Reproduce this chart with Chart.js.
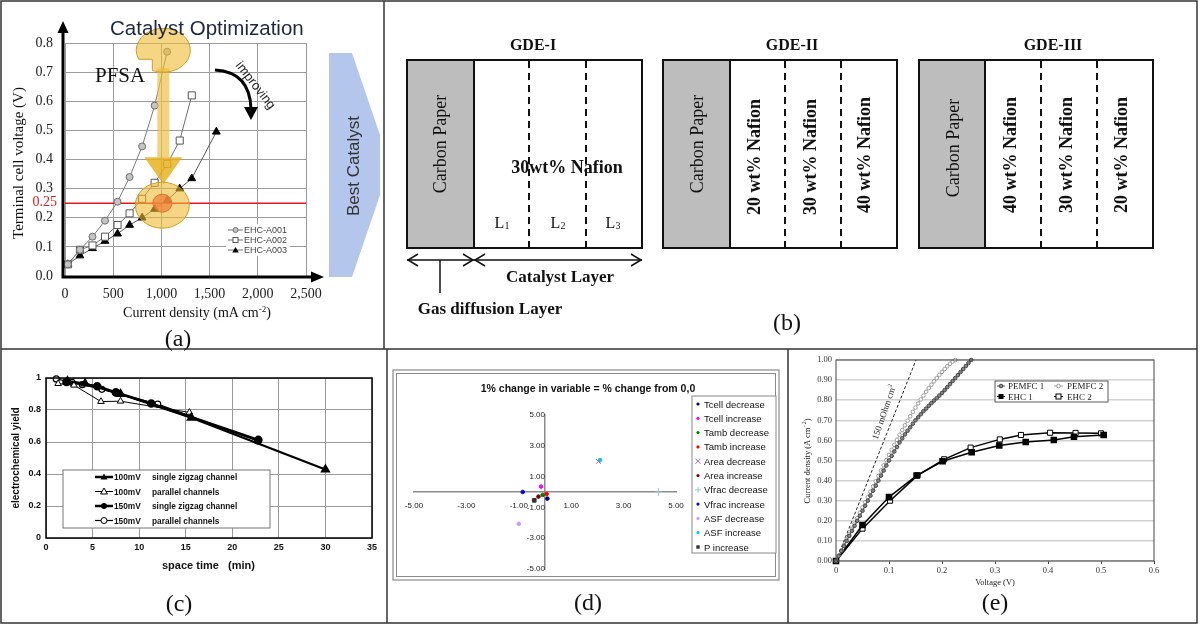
<!DOCTYPE html>
<html>
<head>
<meta charset="utf-8">
<title>Hydrogen pump figure</title>
<script src="https://cdn.jsdelivr.net/npm/chart.js@4.4.0/dist/chart.umd.min.js"></script>
<style>
  body { margin: 0; background: #fff; }
  #page { position: relative; width: 1200px; height: 625px; overflow: hidden; background: #fff; }
  #page canvas { position: absolute; }
  #over { position: absolute; left: 0; top: 0; }
</style>
</head>
<body>
<div id="page">
  <canvas id="chartA" width="340" height="310" style="left:0px;top:0px"></canvas>
  <canvas id="chartC" width="387" height="215" style="left:0px;top:349px"></canvas>
  <canvas id="chartD" width="300" height="180" style="left:395px;top:400px"></canvas>
  <canvas id="chartE" width="405" height="235" style="left:790px;top:349px"></canvas>

  <svg id="over" width="1200" height="625" xmlns="http://www.w3.org/2000/svg">
    <!-- panel frames -->
    <g fill="none" stroke="#333" stroke-width="1.5">
      <rect x="1" y="1" width="1196" height="622"/>
      <line x1="384" y1="1" x2="384" y2="349"/>
      <line x1="1" y1="349" x2="1197" y2="349"/>
      <line x1="387" y1="349" x2="387" y2="623"/>
      <line x1="788" y1="349" x2="788" y2="623"/>
    </g>

    <!-- (a) -->
    <text x="110" y="35" font-family="Liberation Sans" font-size="20.5" fill="#1c2742">Catalyst Optimization</text>
    <text x="95" y="82" font-family="Liberation Serif" font-size="21" fill="#111">PFSA</text>
    <path d="M215,70 Q250,72 251,109" fill="none" stroke="#000" stroke-width="3"/>
    <polygon points="244,107 258,107 251,120" fill="#000"/>
    <text transform="translate(256,85) rotate(52)" text-anchor="middle" dominant-baseline="central" font-family="Liberation Sans" font-size="13" fill="#222">improving</text>
    <text x="57" y="201" text-anchor="end" dominant-baseline="central" font-family="Liberation Serif" font-size="14" fill="#e8171b">0.25</text>
    <text transform="translate(18,163) rotate(-90)" text-anchor="middle" dominant-baseline="central" font-family="Liberation Serif" font-size="15" fill="#111">Terminal cell voltage (V)</text>
    <text x="197" y="317" text-anchor="middle" font-family="Liberation Serif" font-size="14" fill="#111">Current density (mA cm<tspan baseline-shift="super" font-size="9">-2</tspan>)</text>
    <rect x="226" y="224" width="64" height="32" fill="#fff"/>
    <g stroke="#777" stroke-width="1">
      <line x1="228" y1="230" x2="243" y2="230"/>
      <line x1="228" y1="240" x2="243" y2="240"/>
      <line x1="228" y1="250" x2="243" y2="250"/>
    </g>
    <circle cx="235.5" cy="230" r="2.5" fill="#c4c4c4" stroke="#6e6e6e"/>
    <rect x="233" y="237.5" width="5" height="5" fill="#fff" stroke="#555"/>
    <polygon points="235.5,247 238.8,252.5 232.2,252.5" fill="#000"/>
    <g font-family="Liberation Sans" font-size="9" fill="#444" dominant-baseline="central">
      <text x="244" y="230">EHC-A001</text>
      <text x="244" y="240">EHC-A002</text>
      <text x="244" y="250">EHC-A003</text>
    </g>
    <text x="178" y="338" text-anchor="middle" dominant-baseline="central" font-family="Liberation Serif" font-size="24" fill="#111">(a)</text>

    <!-- Best catalyst arrow -->
    <polygon points="329,53 352,53 380,135 380,195 352,277 329,277" fill="#b4c6ec"/>
    <text transform="translate(353,166) rotate(-90)" text-anchor="middle" dominant-baseline="central" font-family="Liberation Sans" font-size="17" fill="#333">Best Catalyst</text>

    <!-- (b) GDE layouts -->
    <g font-family="Liberation Serif" font-weight="bold" font-size="16" fill="#111" text-anchor="middle" dominant-baseline="central">
      <text x="533" y="44">GDE-I</text>
      <text x="792" y="44">GDE-II</text>
      <text x="1053" y="44">GDE-III</text>
    </g>
    <g stroke="#111" stroke-width="2">
      <rect x="407" y="60" width="235" height="188" fill="#fff"/>
      <rect x="407" y="60" width="67" height="188" fill="#bdbdbd"/>
      <rect x="663" y="60" width="234" height="188" fill="#fff"/>
      <rect x="663" y="60" width="67" height="188" fill="#bdbdbd"/>
      <rect x="919" y="60" width="234" height="188" fill="#fff"/>
      <rect x="919" y="60" width="66" height="188" fill="#bdbdbd"/>
    </g>
    <g stroke="#111" stroke-width="2" stroke-dasharray="7,5">
      <line x1="529" y1="61" x2="529" y2="247"/>
      <line x1="586" y1="61" x2="586" y2="247"/>
      <line x1="785" y1="61" x2="785" y2="247"/>
      <line x1="841" y1="61" x2="841" y2="247"/>
      <line x1="1041" y1="61" x2="1041" y2="247"/>
      <line x1="1097" y1="61" x2="1097" y2="247"/>
    </g>
    <g font-family="Liberation Serif" font-size="18" fill="#111" text-anchor="middle" dominant-baseline="central">
      <text transform="translate(440,144) rotate(-90)">Carbon Paper</text>
      <text transform="translate(697,144) rotate(-90)">Carbon Paper</text>
      <text transform="translate(953,148) rotate(-90)">Carbon Paper</text>
    </g>
    <g font-family="Liberation Serif" font-weight="bold" font-size="18" fill="#111" text-anchor="middle" dominant-baseline="central">
      <text x="567" y="167">30wt% Nafion</text>
      <text transform="translate(754,157) rotate(-90)">20 wt% Nafion</text>
      <text transform="translate(810,157) rotate(-90)">30 wt% Nafion</text>
      <text transform="translate(864,155) rotate(-90)">40 wt% Nafion</text>
      <text transform="translate(1010,155) rotate(-90)">40 wt% Nafion</text>
      <text transform="translate(1066,155) rotate(-90)">30 wt% Nafion</text>
      <text transform="translate(1121,155) rotate(-90)">20 wt% Nafion</text>
    </g>
    <g font-family="Liberation Serif" font-size="16" fill="#111" text-anchor="middle" dominant-baseline="central">
      <text x="502" y="222">L<tspan font-size="10" dy="3">1</tspan></text>
      <text x="558" y="222">L<tspan font-size="10" dy="3">2</tspan></text>
      <text x="613" y="222">L<tspan font-size="10" dy="3">3</tspan></text>
    </g>
    <g stroke="#111" stroke-width="1.5" fill="none">
      <line x1="407" y1="260" x2="642" y2="260"/>
      <polyline points="418,254 408,260 418,266"/>
      <polyline points="463,254 473,260 463,266"/>
      <polyline points="485,254 475,260 485,266"/>
      <polyline points="631,254 641,260 631,266"/>
      <line x1="440" y1="260" x2="440" y2="293"/>
    </g>
    <g font-family="Liberation Serif" font-weight="bold" font-size="17" fill="#111" text-anchor="middle" dominant-baseline="central">
      <text x="560" y="276">Catalyst Layer</text>
      <text x="490" y="308">Gas diffusion Layer</text>
    </g>
    <text x="787" y="322" text-anchor="middle" dominant-baseline="central" font-family="Liberation Serif" font-size="24" fill="#111">(b)</text>

    <!-- (c) -->
    <text transform="translate(15,458) rotate(-90)" text-anchor="middle" dominant-baseline="central" font-family="Liberation Sans" font-weight="bold" font-size="10" fill="#111">electrochemical  yield</text>
    <g font-family="Liberation Sans" font-weight="bold" font-size="11" fill="#111">
      <text x="162" y="569">space time</text>
      <text x="228" y="569">(min)</text>
    </g>
    <rect x="63" y="470" width="207" height="58" fill="#fff" stroke="#777" stroke-width="1"/>
    <g stroke="#000">
      <line x1="95" y1="477" x2="113" y2="477" stroke-width="2.5"/>
      <line x1="95" y1="491.5" x2="113" y2="491.5" stroke-width="1"/>
      <line x1="95" y1="506" x2="113" y2="506" stroke-width="2.5"/>
      <line x1="95" y1="520.5" x2="113" y2="520.5" stroke-width="1.2"/>
    </g>
    <polygon points="104,473.5 107.5,479.5 100.5,479.5" fill="#000"/>
    <polygon points="104,488 107.5,494 100.5,494" fill="#fff" stroke="#000"/>
    <circle cx="104" cy="506" r="3" fill="#000"/>
    <circle cx="104" cy="520.5" r="3" fill="#fff" stroke="#000"/>
    <g font-family="Liberation Sans" font-weight="bold" font-size="8.3" fill="#111" dominant-baseline="central">
      <text x="114" y="477">100mV</text><text x="152" y="477">single zigzag channel</text>
      <text x="114" y="491.5">100mV</text><text x="152" y="491.5">parallel channels</text>
      <text x="114" y="506">150mV</text><text x="152" y="506">single zigzag channel</text>
      <text x="114" y="520.5">150mV</text><text x="152" y="520.5">parallel channels</text>
    </g>
    <text x="179" y="603" text-anchor="middle" dominant-baseline="central" font-family="Liberation Serif" font-size="24" fill="#111">(c)</text>

    <!-- (d) -->
    <rect x="393" y="370" width="386" height="210" fill="none" stroke="#8a8a8a" stroke-width="1.2"/>
    <rect x="396.5" y="373.5" width="379" height="203" fill="none" stroke="#8a8a8a" stroke-width="1"/>
    <text x="588" y="388" text-anchor="middle" dominant-baseline="central" font-family="Liberation Sans" font-weight="bold" font-size="10.5" fill="#111">1% change in variable = % change from 0,0</text>
    <rect x="692" y="396" width="84" height="157" fill="#fff" stroke="#888" stroke-width="1"/>
    <circle cx="698" cy="404" r="1.6" fill="#000080"/>
    <circle cx="698" cy="418.3" r="1.6" fill="#ff00ff"/>
    <circle cx="698" cy="432.6" r="1.6" fill="#008000"/>
    <circle cx="698" cy="446.9" r="1.6" fill="#ff0000"/>
    <path d="M695.5,458.7 L700.5,463.7 M700.5,458.7 L695.5,463.7" stroke="#9966aa" stroke-width="1"/>
    <circle cx="698" cy="475.5" r="1.6" fill="#800000"/>
    <path d="M695,489.8 L701,489.8 M698,486.8 L698,492.8" stroke="#99cccc" stroke-width="1"/>
    <circle cx="698" cy="504.1" r="1.6" fill="#0000ff"/>
    <circle cx="698" cy="518.4" r="1.6" fill="#cc99ff"/>
    <circle cx="698" cy="532.7" r="1.6" fill="#00ccff"/>
    <rect x="696.3" y="545.3" width="3.4" height="3.4" fill="#333"/>
    <g font-family="Liberation Sans" font-size="9.5" fill="#111" dominant-baseline="central">
      <text x="704" y="404">Tcell decrease</text>
      <text x="704" y="418.3">Tcell increase</text>
      <text x="704" y="432.6">Tamb decrease</text>
      <text x="704" y="446.9">Tamb increase</text>
      <text x="704" y="461.2">Area decrease</text>
      <text x="704" y="475.5">Area increase</text>
      <text x="704" y="489.8">Vfrac decrease</text>
      <text x="704" y="504.1">Vfrac increase</text>
      <text x="704" y="518.4">ASF decrease</text>
      <text x="704" y="532.7">ASF increase</text>
      <text x="704" y="547">P increase</text>
    </g>
    <text x="588" y="602" text-anchor="middle" dominant-baseline="central" font-family="Liberation Serif" font-size="24" fill="#111">(d)</text>

    <!-- (e) -->
    <rect x="995" y="381" width="113" height="21" fill="#fff" stroke="#333" stroke-width="0.8"/>
    <g stroke-width="1">
      <line x1="997" y1="386" x2="1005" y2="386" stroke="#555"/>
      <line x1="1054" y1="386" x2="1063" y2="386" stroke="#999"/>
      <line x1="997" y1="396.5" x2="1005" y2="396.5" stroke="#000"/>
      <line x1="1054" y1="396.5" x2="1063" y2="396.5" stroke="#000"/>
    </g>
    <circle cx="1001" cy="386" r="1.8" fill="#888" stroke="#444"/>
    <circle cx="1058.5" cy="386" r="1.8" fill="#fff" stroke="#999"/>
    <rect x="998.5" y="394" width="5" height="5" fill="#000"/>
    <rect x="1056" y="394" width="5" height="5" fill="#fff" stroke="#000"/>
    <g font-family="Liberation Serif" font-size="9" fill="#222" dominant-baseline="central">
      <text x="1008" y="386">PEMFC 1</text>
      <text x="1067" y="386">PEMFC 2</text>
      <text x="1008" y="396.5">EHC 1</text>
      <text x="1067" y="396.5">EHC 2</text>
    </g>
    <text transform="translate(884,412) rotate(-71)" text-anchor="middle" dominant-baseline="central" font-family="Liberation Serif" font-size="9" fill="#222">150 mOhm cm<tspan baseline-shift="super" font-size="6">2</tspan></text>
    <text transform="translate(807,461) rotate(-90)" text-anchor="middle" dominant-baseline="central" font-family="Liberation Serif" font-size="8.5" fill="#222">Current density (A cm<tspan baseline-shift="super" font-size="6">−2</tspan>)</text>
    <text x="995" y="582" text-anchor="middle" dominant-baseline="central" font-family="Liberation Serif" font-size="8.5" fill="#222">Voltage (V)</text>
    <text x="995" y="602" text-anchor="middle" dominant-baseline="central" font-family="Liberation Serif" font-size="24" fill="#111">(e)</text>
  </svg>
</div>

<script>
// ---- (a) catalyst polarisation curves: current density (mA cm-2) vs voltage (V)
const a001X = [30, 155, 285, 415, 545, 670, 800, 930, 1060];
const a001Y = [0.04, 0.09, 0.135, 0.19, 0.255, 0.34, 0.445, 0.585, 0.77];
const a002X = [30, 155, 285, 415, 545, 670, 800, 930, 1060, 1190, 1315];
const a002Y = [0.04, 0.09, 0.105, 0.135, 0.175, 0.215, 0.265, 0.32, 0.385, 0.465, 0.62];
const a003X = [30, 155, 285, 415, 545, 670, 800, 930, 1060, 1190, 1315, 1570];
const a003Y = [0.04, 0.07, 0.095, 0.12, 0.145, 0.175, 0.2, 0.23, 0.26, 0.3, 0.335, 0.495];
const targetX = [0, 2500];
const targetY = [0.25, 0.25];
const aTicksX = [0, 500, 1000, 1500, 2000, 2500];
const aTicksY = [0, 0.1, 0.2, 0.3, 0.4, 0.5, 0.6, 0.7, 0.8];
const bestSpot = { x: 1020, top: 0.775, bottom: 0.25 };

// ---- (c) electrochemical yield vs space time (min)
const c100ZigX = [2.3, 4.2, 8.0, 15.6, 30.0];
const c100ZigY = [0.98, 0.965, 0.9, 0.752, 0.428];
const c100ParX = [1.3, 3.0, 5.9, 8.0, 15.4];
const c100ParY = [0.965, 0.955, 0.853, 0.855, 0.785];
const c150ZigX = [2.2, 5.5, 7.5, 11.3, 22.8];
const c150ZigY = [0.975, 0.948, 0.91, 0.841, 0.613];
const c150ParX = [1.1, 2.8, 3.9, 6.0, 12.0, 22.7];
const c150ParY = [0.994, 0.973, 0.958, 0.929, 0.837, 0.607];
const cTicksX = [0, 5, 10, 15, 20, 25, 30, 35];
const cTicksY = [0, 0.2, 0.4, 0.6, 0.8, 1];

// ---- (d) sensitivity: % change per 1% change in each variable
const dNames = ['Tcell decrease', 'Tcell increase', 'Tamb decrease', 'Tamb increase', 'Area decrease',
  'Area increase', 'Vfrac decrease', 'Vfrac increase', 'ASF decrease', 'ASF increase', 'P increase'];
const dX = [0.09, -0.15, -0.09, 0.06, 2.04, -0.25, 4.33, -0.85, -1.0, 2.1, -0.41];
const dY = [-0.43, 0.35, -0.19, -0.13, 1.99, -0.3, 0.0, 0.0, -2.07, 2.07, -0.54];
const dTicks = [-5, -3, -1, 1, 3, 5];

// ---- (e) current density (A cm-2) vs voltage (V)
const pemfc1V = [0, 0.005, 0.01, 0.015, 0.02, 0.025, 0.03, 0.035, 0.04, 0.045, 0.05, 0.055, 0.06, 0.065, 0.07,
  0.075, 0.08, 0.085, 0.09, 0.095, 0.1, 0.105, 0.11, 0.115, 0.12, 0.125, 0.13, 0.135, 0.14, 0.145, 0.15, 0.155,
  0.16, 0.165, 0.17, 0.175, 0.18, 0.185, 0.19, 0.195, 0.2, 0.205, 0.21, 0.215, 0.22, 0.225, 0.23, 0.235, 0.24,
  0.245, 0.25, 0.255];
const pemfc1J = [0, 0.025, 0.05, 0.075, 0.1, 0.125, 0.15, 0.175, 0.2, 0.225, 0.25, 0.275, 0.3, 0.325, 0.35,
  0.375, 0.4, 0.425, 0.45, 0.475, 0.5, 0.523, 0.545, 0.567, 0.59, 0.61, 0.63, 0.648, 0.665, 0.683, 0.7, 0.715,
  0.73, 0.745, 0.758, 0.772, 0.785, 0.798, 0.81, 0.823, 0.836, 0.85, 0.865, 0.88, 0.895, 0.91, 0.925, 0.94, 0.955,
  0.97, 0.985, 1.0];
const pemfc2V = [0, 0.005, 0.01, 0.015, 0.02, 0.025, 0.03, 0.035, 0.04, 0.045, 0.05, 0.055, 0.06, 0.065, 0.07,
  0.075, 0.08, 0.085, 0.09, 0.095, 0.1, 0.105, 0.11, 0.115, 0.12, 0.125, 0.13, 0.135, 0.14, 0.145, 0.15, 0.155,
  0.16, 0.165, 0.17, 0.175, 0.18, 0.185, 0.19, 0.195, 0.2, 0.205, 0.21, 0.215, 0.22, 0.225];
const pemfc2J = [0, 0.027, 0.054, 0.08, 0.107, 0.133, 0.16, 0.186, 0.213, 0.24, 0.266, 0.292, 0.318, 0.345, 0.371,
  0.397, 0.423, 0.45, 0.476, 0.502, 0.528, 0.553, 0.578, 0.603, 0.628, 0.652, 0.675, 0.698, 0.72, 0.742, 0.763,
  0.784, 0.804, 0.823, 0.842, 0.86, 0.877, 0.894, 0.91, 0.926, 0.941, 0.955, 0.969, 0.981, 0.992, 1.0];
const ehc1V = [0, 0.05, 0.1, 0.152, 0.201, 0.256, 0.308, 0.358, 0.411, 0.449, 0.505];
const ehc1J = [0, 0.179, 0.318, 0.425, 0.496, 0.541, 0.575, 0.592, 0.602, 0.618, 0.627];
const ehc2V = [0, 0.05, 0.102, 0.154, 0.204, 0.254, 0.309, 0.349, 0.404, 0.452, 0.5];
const ehc2J = [0, 0.161, 0.3, 0.426, 0.506, 0.564, 0.605, 0.627, 0.638, 0.637, 0.635];
const ohmV = [0, 0.151];
const ohmJ = [0, 1.0];
const eTicksX = [0, 0.1, 0.2, 0.3, 0.4, 0.5, 0.6];
const eTicksY = [0, 0.1, 0.2, 0.3, 0.4, 0.5, 0.6, 0.7, 0.8, 0.9, 1.0];

const SERIF = '"Liberation Serif", "Times New Roman", serif';
const SANS = '"Liberation Sans", Arial, sans-serif';
Chart.defaults.font.family = SANS;

// helpers
const pts = (xs, ys) => xs.map((x, i) => ({ x: x, y: ys[i] }));
const fixTicks = list => scale => { scale.ticks = list.map(v => ({ value: v })); };
const setW = w => s => { s.width = w; };
const setH = h => s => { s.height = h; };
const noExtras = { legend: { display: false }, tooltip: { enabled: false } };

function boxFrame(color, width) {
  return {
    id: 'boxFrame',
    afterDraw(chart) {
      const { ctx, chartArea: a } = chart;
      ctx.save();
      ctx.strokeStyle = color;
      ctx.lineWidth = width;
      ctx.strokeRect(a.left, a.top, a.right - a.left, a.bottom - a.top);
      ctx.restore();
    }
  };
}

// yellow highlight + thick arrowed axes for (a)
const catalystMarks = {
  id: 'catalystMarks',
  afterDatasetsDraw(chart) {
    const { ctx, scales: { x, y } } = chart;
    const cx = x.getPixelForValue(bestSpot.x);
    const cyT = y.getPixelForValue(bestSpot.top);
    const cyB = y.getPixelForValue(bestSpot.bottom);
    ctx.save();
    // shaft and head
    ctx.fillStyle = 'rgba(238,192,70,0.7)';
    ctx.fillRect(cx - 6, cyT + 18, 12, cyB - 46 - (cyT + 18));
    ctx.fillStyle = 'rgba(232,178,30,0.85)';
    ctx.beginPath();
    ctx.moveTo(cx - 19, cyB - 46);
    ctx.lineTo(cx + 19, cyB - 46);
    ctx.lineTo(cx, cyB - 19);
    ctx.closePath();
    ctx.fill();
    // top notched disc
    const rx = 27, ry = 22, nx = 11, ny = 9;
    const t1 = Math.acos(-nx / rx), t2 = Math.PI - Math.asin(ny / ry);
    ctx.fillStyle = 'rgba(236,186,50,0.6)';
    ctx.strokeStyle = 'rgba(205,150,20,0.9)';
    ctx.lineWidth = 1;
    ctx.beginPath();
    ctx.moveTo(cx - nx, cyT + ny);
    ctx.lineTo(cx + rx * Math.cos(t1), cyT + ry * Math.sin(t1));
    ctx.ellipse(cx, cyT, rx, ry, 0, t1, t2, true);
    ctx.closePath();
    ctx.fill();
    ctx.stroke();
    // bottom disc
    ctx.beginPath();
    ctx.ellipse(cx - 1, cyB + 2, 27, 23, 0, 0, Math.PI * 2);
    ctx.fill();
    ctx.stroke();
    ctx.fillStyle = 'rgba(240,130,60,0.75)';
    ctx.strokeStyle = 'rgba(220,110,40,0.9)';
    ctx.beginPath();
    ctx.ellipse(cx - 1, cyB, 9.5, 9, 0, 0, Math.PI * 2);
    ctx.fill();
    ctx.stroke();
    ctx.restore();
  },
  afterDraw(chart) {
    const { ctx, chartArea: a } = chart;
    const ox = a.left - 2, oy = a.bottom + 1;
    ctx.save();
    ctx.strokeStyle = '#000';
    ctx.fillStyle = '#000';
    ctx.lineWidth = 3;
    ctx.beginPath();
    ctx.moveTo(ox, oy + 1.5);
    ctx.lineTo(ox, 30);
    ctx.moveTo(ox - 1.5, oy);
    ctx.lineTo(312, oy);
    ctx.stroke();
    ctx.beginPath();
    ctx.moveTo(ox, 21); ctx.lineTo(ox - 5.5, 33); ctx.lineTo(ox + 5.5, 33); ctx.closePath();
    ctx.moveTo(324, oy); ctx.lineTo(311, oy - 5.5); ctx.lineTo(311, oy + 5.5); ctx.closePath();
    ctx.fill();
    ctx.restore();
  }
};

// ---------------- (a)
new Chart(document.getElementById('chartA'), {
  type: 'scatter',
  data: {
    datasets: [
      { label: 'EHC-A001', data: pts(a001X, a001Y), showLine: true, clip: false, borderColor: '#7a7a7a', borderWidth: 1,
        pointStyle: 'circle', pointRadius: 3.5, pointBackgroundColor: '#c4c4c4', pointBorderColor: '#6e6e6e', pointBorderWidth: 1 },
      { label: 'EHC-A002', data: pts(a002X, a002Y), showLine: true, clip: false, borderColor: '#6e6e6e', borderWidth: 1,
        pointStyle: 'rect', pointRadius: 5, pointBackgroundColor: '#fff', pointBorderColor: '#555', pointBorderWidth: 1 },
      { label: 'EHC-A003', data: pts(a003X, a003Y), showLine: true, clip: false, borderColor: '#555', borderWidth: 1,
        pointStyle: 'triangle', pointRadius: 4.5, pointBackgroundColor: '#000', pointBorderColor: '#000' },
      { label: 'target', data: pts(targetX, targetY), showLine: true, clip: false, borderColor: '#e8171b', borderWidth: 1.5, pointRadius: 0 }
    ]
  },
  options: {
    responsive: false,
    animation: false,
    layout: { padding: { left: 15, right: 34, top: 43, bottom: 10 } },
    plugins: noExtras,
    scales: {
      x: {
        type: 'linear', min: 0, max: 2500,
        afterBuildTicks: fixTicks(aTicksX), afterFit: setH(24),
        grid: { color: '#9c9c9c', drawTicks: false }, border: { display: false },
        ticks: { padding: 10, color: '#222', font: { family: SERIF, size: 14 }, callback: v => v.toLocaleString('en-US') }
      },
      y: {
        min: 0, max: 0.8,
        afterBuildTicks: fixTicks(aTicksY), afterFit: setW(50),
        grid: { color: '#9c9c9c', drawTicks: false }, border: { display: false },
        ticks: { padding: 12, color: '#222', font: { family: SERIF, size: 14 }, callback: v => v.toFixed(1) }
      }
    }
  },
  plugins: [catalystMarks]
});

// ---------------- (c)
new Chart(document.getElementById('chartC'), {
  type: 'scatter',
  data: {
    datasets: [
      { label: '100mV single zigzag channel', data: pts(c100ZigX, c100ZigY), showLine: true, clip: false, borderColor: '#000', borderWidth: 2.2,
        pointStyle: 'triangle', pointRadius: 3.8, pointBackgroundColor: '#000', pointBorderColor: '#000' },
      { label: '100mV parallel channels', data: pts(c100ParX, c100ParY), showLine: true, clip: false, borderColor: '#000', borderWidth: 1,
        pointStyle: 'triangle', pointRadius: 3.8, pointBackgroundColor: '#fff', pointBorderColor: '#000' },
      { label: '150mV single zigzag channel', data: pts(c150ZigX, c150ZigY), showLine: true, clip: false, borderColor: '#000', borderWidth: 2.6,
        pointStyle: 'circle', pointRadius: 3, pointBackgroundColor: '#000', pointBorderColor: '#000' },
      { label: '150mV parallel channels', data: pts(c150ParX, c150ParY), showLine: true, clip: false, borderColor: '#000', borderWidth: 1.2,
        pointStyle: 'circle', pointRadius: 3, pointBackgroundColor: '#fff', pointBorderColor: '#000' }
    ]
  },
  options: {
    responsive: false,
    animation: false,
    layout: { padding: { left: 6, right: 15, top: 29, bottom: 10 } },
    plugins: noExtras,
    scales: {
      x: {
        type: 'linear', min: 0, max: 35,
        afterBuildTicks: fixTicks(cTicksX), afterFit: setH(16),
        grid: { color: '#9a9a9a', drawTicks: false }, border: { display: false },
        ticks: { padding: 4, color: '#111', font: { size: 9, weight: 'bold' } }
      },
      y: {
        min: 0, max: 1,
        afterBuildTicks: fixTicks(cTicksY), afterFit: setW(40),
        grid: { color: '#9a9a9a', drawTicks: false }, border: { display: false },
        ticks: { padding: 5, color: '#111', font: { size: 9, weight: 'bold' }, callback: v => String(v) }
      }
    }
  },
  plugins: [boxFrame('#000', 1.5)]
});

// ---------------- (d)
const dStyles = [
  { c: '#000080', s: 'circle', r: 1.8 }, { c: '#ff00ff', s: 'circle', r: 1.8 }, { c: '#008000', s: 'circle', r: 1.8 },
  { c: '#ff0000', s: 'circle', r: 1.8 }, { c: '#9966aa', s: 'crossRot', r: 3.5 }, { c: '#800000', s: 'circle', r: 1.8 },
  { c: '#99cccc', s: 'cross', r: 4 }, { c: '#0000ff', s: 'circle', r: 1.8 }, { c: '#cc99ff', s: 'circle', r: 1.8 },
  { c: '#00ccff', s: 'circle', r: 1.8 }, { c: '#333333', s: 'rect', r: 2.6 }
];
new Chart(document.getElementById('chartD'), {
  type: 'scatter',
  data: {
    datasets: dNames.map((name, i) => ({
      label: name, data: [{ x: dX[i], y: dY[i] }], clip: false,
      pointStyle: dStyles[i].s, pointRadius: dStyles[i].r,
      pointBackgroundColor: dStyles[i].c, pointBorderColor: dStyles[i].c, pointBorderWidth: 1
    }))
  },
  options: {
    responsive: false,
    animation: false,
    layout: { padding: { left: 19, right: 19, top: 15, bottom: 11 } },
    plugins: noExtras,
    scales: {
      x: {
        type: 'linear', min: -5, max: 5, position: { y: 0 },
        afterBuildTicks: fixTicks(dTicks), afterFit: setH(0),
        border: { color: '#8c8c8c', width: 1.5 },
        grid: { drawOnChartArea: false, drawTicks: true, tickLength: 6, color: 'rgba(0,0,0,0)' },
        ticks: { autoSkip: false, maxRotation: 0, padding: 3, color: '#222', font: { size: 8 }, callback: v => v.toFixed(2) }
      },
      y: {
        min: -5, max: 5, position: { x: 0 },
        afterBuildTicks: fixTicks(dTicks), afterFit: setW(0),
        border: { color: '#8c8c8c', width: 1.5 },
        grid: { drawOnChartArea: false, drawTicks: true, tickLength: 12, color: 'rgba(0,0,0,0)' },
        ticks: { autoSkip: false, padding: 0, color: '#222', font: { size: 8 }, callback: v => v.toFixed(2) }
      }
    }
  }
});

// ---------------- (e)
new Chart(document.getElementById('chartE'), {
  type: 'scatter',
  data: {
    datasets: [
      { label: 'PEMFC 1', data: pts(pemfc1V, pemfc1J), showLine: true, clip: false, borderColor: '#555', borderWidth: 1,
        pointStyle: 'circle', pointRadius: 1.8, pointBackgroundColor: '#888', pointBorderColor: '#444', pointBorderWidth: 1 },
      { label: 'PEMFC 2', data: pts(pemfc2V, pemfc2J), showLine: true, clip: false, borderColor: '#aaa', borderWidth: 1,
        pointStyle: 'circle', pointRadius: 1.8, pointBackgroundColor: '#fff', pointBorderColor: '#9a9a9a', pointBorderWidth: 1 },
      { label: 'EHC 1', data: pts(ehc1V, ehc1J), showLine: true, clip: false, borderColor: '#000', borderWidth: 1.5,
        pointStyle: 'rect', pointRadius: 3.6, pointBackgroundColor: '#000', pointBorderColor: '#000' },
      { label: 'EHC 2', data: pts(ehc2V, ehc2J), showLine: true, clip: false, borderColor: '#000', borderWidth: 1.5,
        pointStyle: 'rect', pointRadius: 3.6, pointBackgroundColor: '#fff', pointBorderColor: '#000', pointBorderWidth: 1 },
      { label: '150 mOhm cm2', data: pts(ohmV, ohmJ), showLine: true, clip: false, borderColor: '#222', borderWidth: 1,
        borderDash: [3, 2], pointRadius: 0 }
    ]
  },
  options: {
    responsive: false,
    animation: false,
    layout: { padding: { left: 14, right: 41, top: 11, bottom: 9 } },
    plugins: noExtras,
    scales: {
      x: {
        type: 'linear', min: 0, max: 0.6,
        afterBuildTicks: fixTicks(eTicksX), afterFit: setH(14),
        grid: { drawOnChartArea: false, drawTicks: true, tickLength: 3, color: '#444' }, border: { display: false },
        ticks: { padding: 2, color: '#333', font: { family: SERIF, size: 8.5 }, callback: v => String(v) }
      },
      y: {
        min: 0, max: 1,
        afterBuildTicks: fixTicks(eTicksY), afterFit: setW(32),
        grid: { color: '#d2d2d2', lineWidth: 1.5, drawTicks: false }, border: { display: false },
        ticks: { padding: 4, color: '#333', font: { family: SERIF, size: 8.5 }, callback: v => v.toFixed(2) }
      }
    }
  },
  plugins: [boxFrame('#444', 1)]
});
</script>
</body>
</html>
